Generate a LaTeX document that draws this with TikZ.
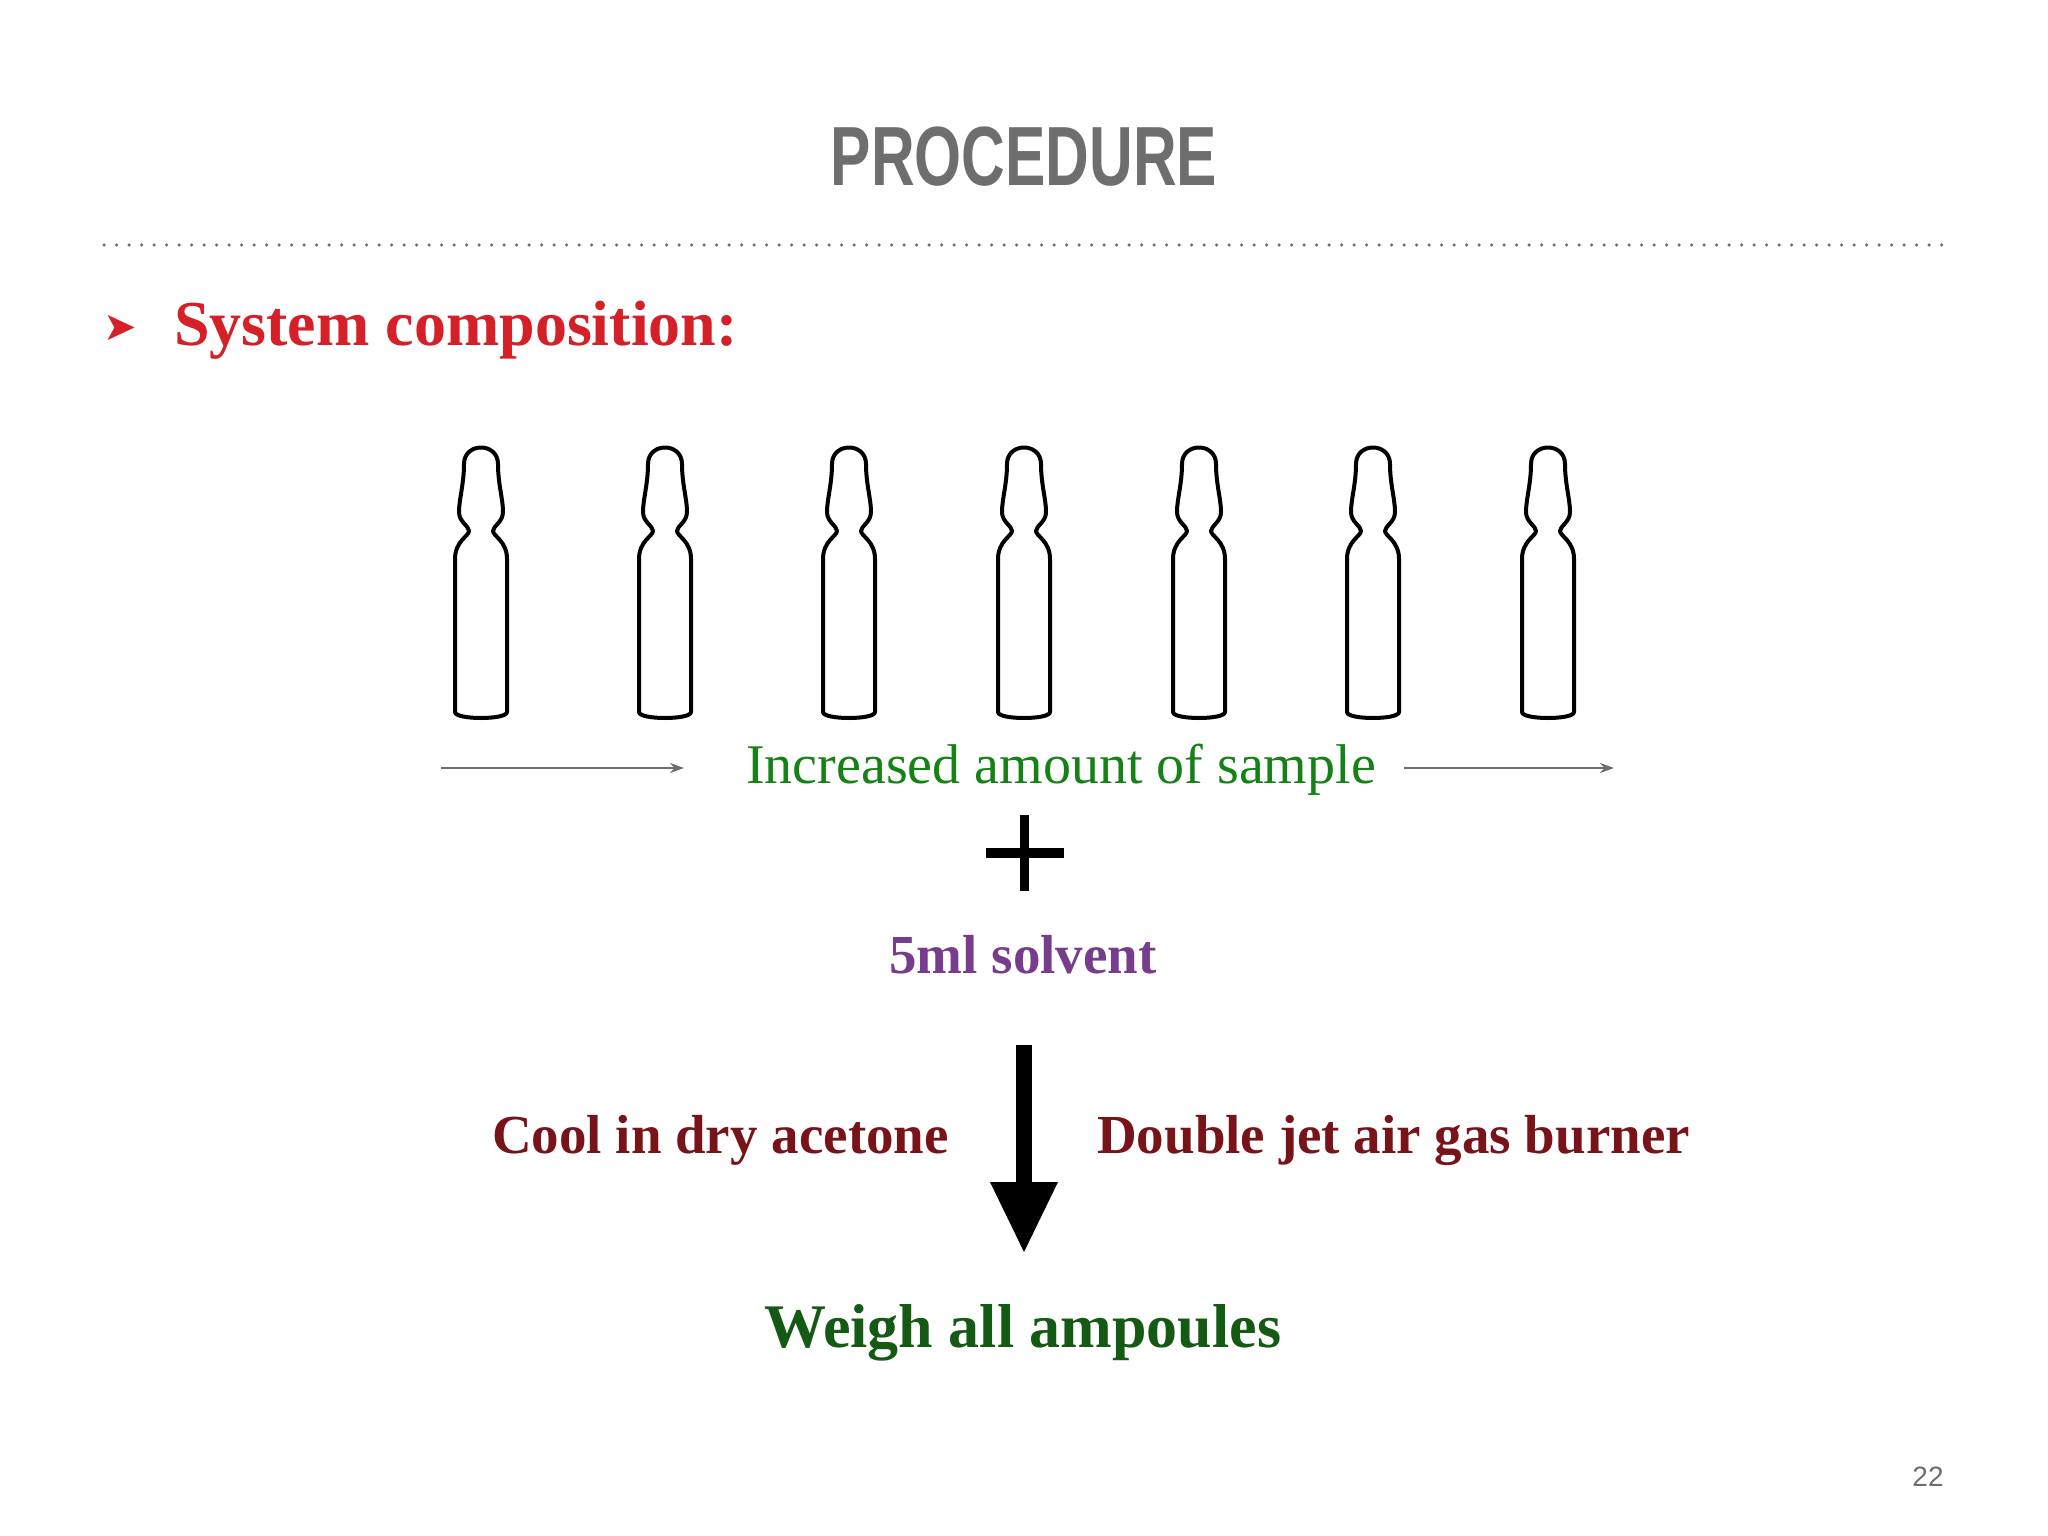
\documentclass[tikz,border=0pt]{standalone}
\usepackage{fontspec}
\setmainfont{Liberation Serif}
\newfontfamily\titlefont{Liberation Sans}
\newfontfamily\symfont{DejaVu Sans}
\usetikzlibrary{arrows.meta}
\definecolor{titlegray}{RGB}{110,110,110}
\definecolor{redtxt}{RGB}{214,32,39}
\definecolor{greentxt}{RGB}{20,130,20}
\definecolor{purpletxt}{RGB}{120,60,140}
\definecolor{darkred}{RGB}{120,20,25}
\definecolor{darkgreen}{RGB}{20,90,20}
\tikzset{
  ampoule/.pic={
    \draw[line width=4pt,line join=round,fill=white]
      (-17,20) .. controls (-17,-2) and (17,-2) .. (17,20)
      .. controls (17,40) and (22,55) .. (22,68)
      .. controls (22,78) and (12,82) .. (12,87)
      .. controls (12,92) and (26,97) .. (26,115)
      -- (26,268) .. controls (26,276) and (-26,276) .. (-26,268)
      -- (-26,115) .. controls (-26,97) and (-12,92) .. (-12,87)
      .. controls (-12,82) and (-22,78) .. (-22,68)
      .. controls (-22,55) and (-17,40) .. cycle;
  },
  grayarrow/.style={draw=titlegray,line width=2.5pt,-{Stealth[length=14pt,width=10pt]}},
  lbl/.style={inner sep=0pt}
}
\begin{document}
\begin{tikzpicture}[x=1pt,y=-1pt]
\useasboundingbox[fill=white] (0,0) rectangle (2048,1536);
\node[lbl,text=titlegray] (title) at (1024,157) {\titlefont\bfseries\fontsize{84}{84}\selectfont\scalebox{0.72}[1]{PROCEDURE}};
\coordinate (dl) at (104,245); \coordinate (dr) at (1946,245);
\draw[titlegray,line width=3.5pt,line cap=round,dash pattern=on 0pt off 12.5pt] (dl) -- (dr);
\node[lbl,text=redtxt] (bul) at (120,328) {\symfont\fontsize{40}{40}\selectfont ➤};
\node[lbl,anchor=west,text=redtxt] (sys) at (174,330) {\bfseries\fontsize{64}{64}\selectfont System composition:};
\foreach \x [count=\i] in {481,665,849,1024,1199,1373,1548}{
  \pic (amp\i) at (\x,444) {ampoule};
}
\coordinate (a1s) at (441,768); \coordinate (a1e) at (684,768);
\coordinate (a2s) at (1404,768); \coordinate (a2e) at (1614,768);
\draw[grayarrow] (a1s) -- (a1e);
\draw[grayarrow] (a2s) -- (a2e);
\node[lbl,text=greentxt] (inc) at (1061,770) {\fontsize{56}{56}\selectfont Increased amount of sample};
\node[lbl] (plus) at (1024,853) {};
\fill (1020,815) rectangle (1029,891);
\fill (986,848) rectangle (1064,858);
\node[lbl,text=purpletxt] (solv) at (1023,955) {\bfseries\fontsize{55}{55}\selectfont 5ml solvent};
\coordinate (ds) at (1024,1045); \coordinate (de) at (1024,1252);
\fill (1016,1045) rectangle (1032,1184);
\fill (990,1182) -- (1058,1182) -- (1024,1252) -- cycle;
\node[lbl,anchor=east,text=darkred] (cool) at (949,1140) {\bfseries\fontsize{55}{55}\selectfont Cool in dry acetone};
\node[lbl,anchor=west,text=darkred] (burn) at (1097,1140) {\bfseries\fontsize{55}{55}\selectfont Double jet air gas burner};
\node[lbl,text=darkgreen] (weigh) at (1023,1333) {\bfseries\fontsize{62}{62}\selectfont Weigh all ampoules};
\node[lbl,text=titlegray] (pg) at (1928,1477) {\titlefont\fontsize{28}{28}\selectfont 22};
\end{tikzpicture}
\end{document}
